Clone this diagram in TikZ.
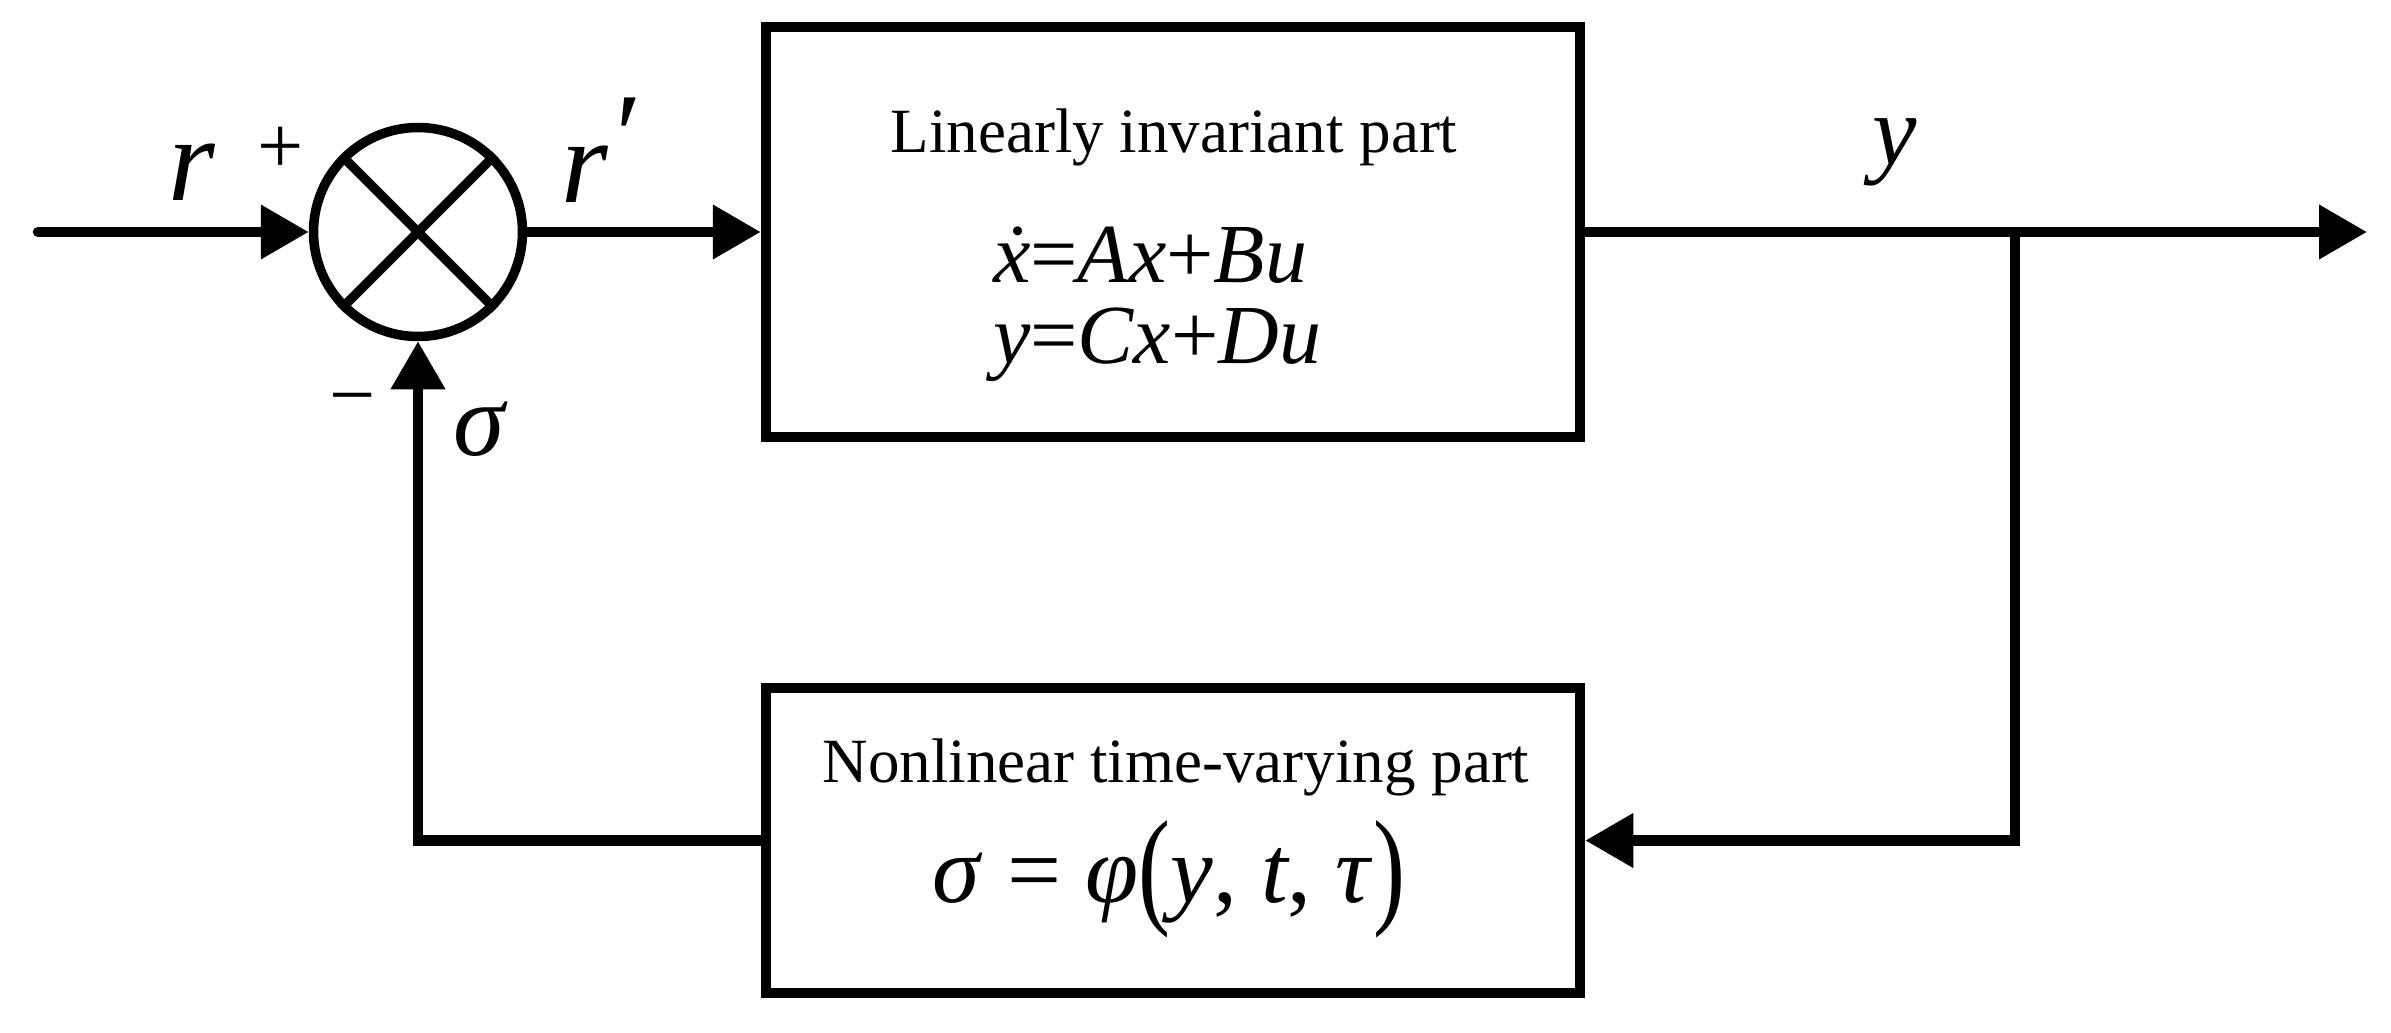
\documentclass[tikz,border=0pt]{standalone}
\usepackage{fontspec}
\usepackage{graphicx}
\setmainfont{Liberation Serif}
\usetikzlibrary{arrows.meta}
\newcommand{\fsz}[1]{\fontsize{#1}{#1}\selectfont}
\begin{document}
\begin{tikzpicture}[x=1pt,y=-1pt,
  conn/.style={line width=10.5pt,-{Triangle[length=48pt,width=52pt]}},
  blockbox/.style={draw,rectangle,line width=10.5pt,inner sep=0pt,minimum width=814pt},
  sumnode/.style={draw,circle,line width=9.5pt,inner sep=0pt,minimum size=209pt},
  lbl/.style={inner sep=0pt}]
\fill[white] (0,0) rectangle (2391,1033);
\useasboundingbox (0,0) rectangle (2391,1033);

% blocks
\node[blockbox,minimum height=410pt] (lin) at (1173,232) {};
\node[blockbox,minimum height=305pt] (nl) at (1173,840.5) {};
\node[sumnode] (sum) at (418,232) {};
\draw[line width=9.5pt] (sum.north east) -- (sum.south west);
\draw[line width=9.5pt] (sum.north west) -- (sum.south east);

% coordinates
\coordinate (in) at (38,232);
\coordinate (out) at (2367,232);
\coordinate (br) at (2015,232);

% connectors
\draw[conn,line cap=round] (in) -- (sum.west);
\draw[conn] (sum.east) -- (lin.west);
\draw[conn] (lin.east) -- (out);
\draw[conn] (br) |- (nl.east);
\draw[conn] (nl.west) -| (sum.south);

% labels
\node[lbl] (rlab) at (192,172) {\fsz{120}\itshape r};
\node[lbl] (plus) at (281,150) {\fsz{82}+};
\node[lbl] (rplab) at (598,150) {\fsz{120}\itshape r\raisebox{0.22em}{\symbol{"2032}}};
\node[lbl] (ylab) at (1895,152) {\fsz{100}\itshape y};
\node[lbl] (minus) at (353,408) {\fsz{82}\symbol{"2212}};
\node[lbl] (siglab) at (479,429) {\fsz{104}\itshape σ};

% top block text
\node[lbl,anchor=base] (lintitle) at (1174,152) {\fsz{63}Linearly invariant part};
\node[lbl,anchor=base west] (eq1) at (993,282) {\fsz{84}\textit{\.x}=\textit{Ax}+\textit{Bu}};
\node[lbl,anchor=base west] (eq2) at (993,363) {\fsz{84}\textit{y}=\textit{Cx}+\textit{Du}};

% bottom block text
\node[lbl,anchor=base] (nltitle) at (1176,782) {\fsz{63}Nonlinear time-varying part};
\node[lbl,anchor=base] (nleq) at (1169,902) {\fsz{96}\textit{σ} = \textit{φ}\raisebox{-8pt}{\scalebox{1}[1.35]{(}}\textit{y}, \textit{t}, \textit{τ}\raisebox{-8pt}{\scalebox{1}[1.35]{)}}};
\end{tikzpicture}
\end{document}
